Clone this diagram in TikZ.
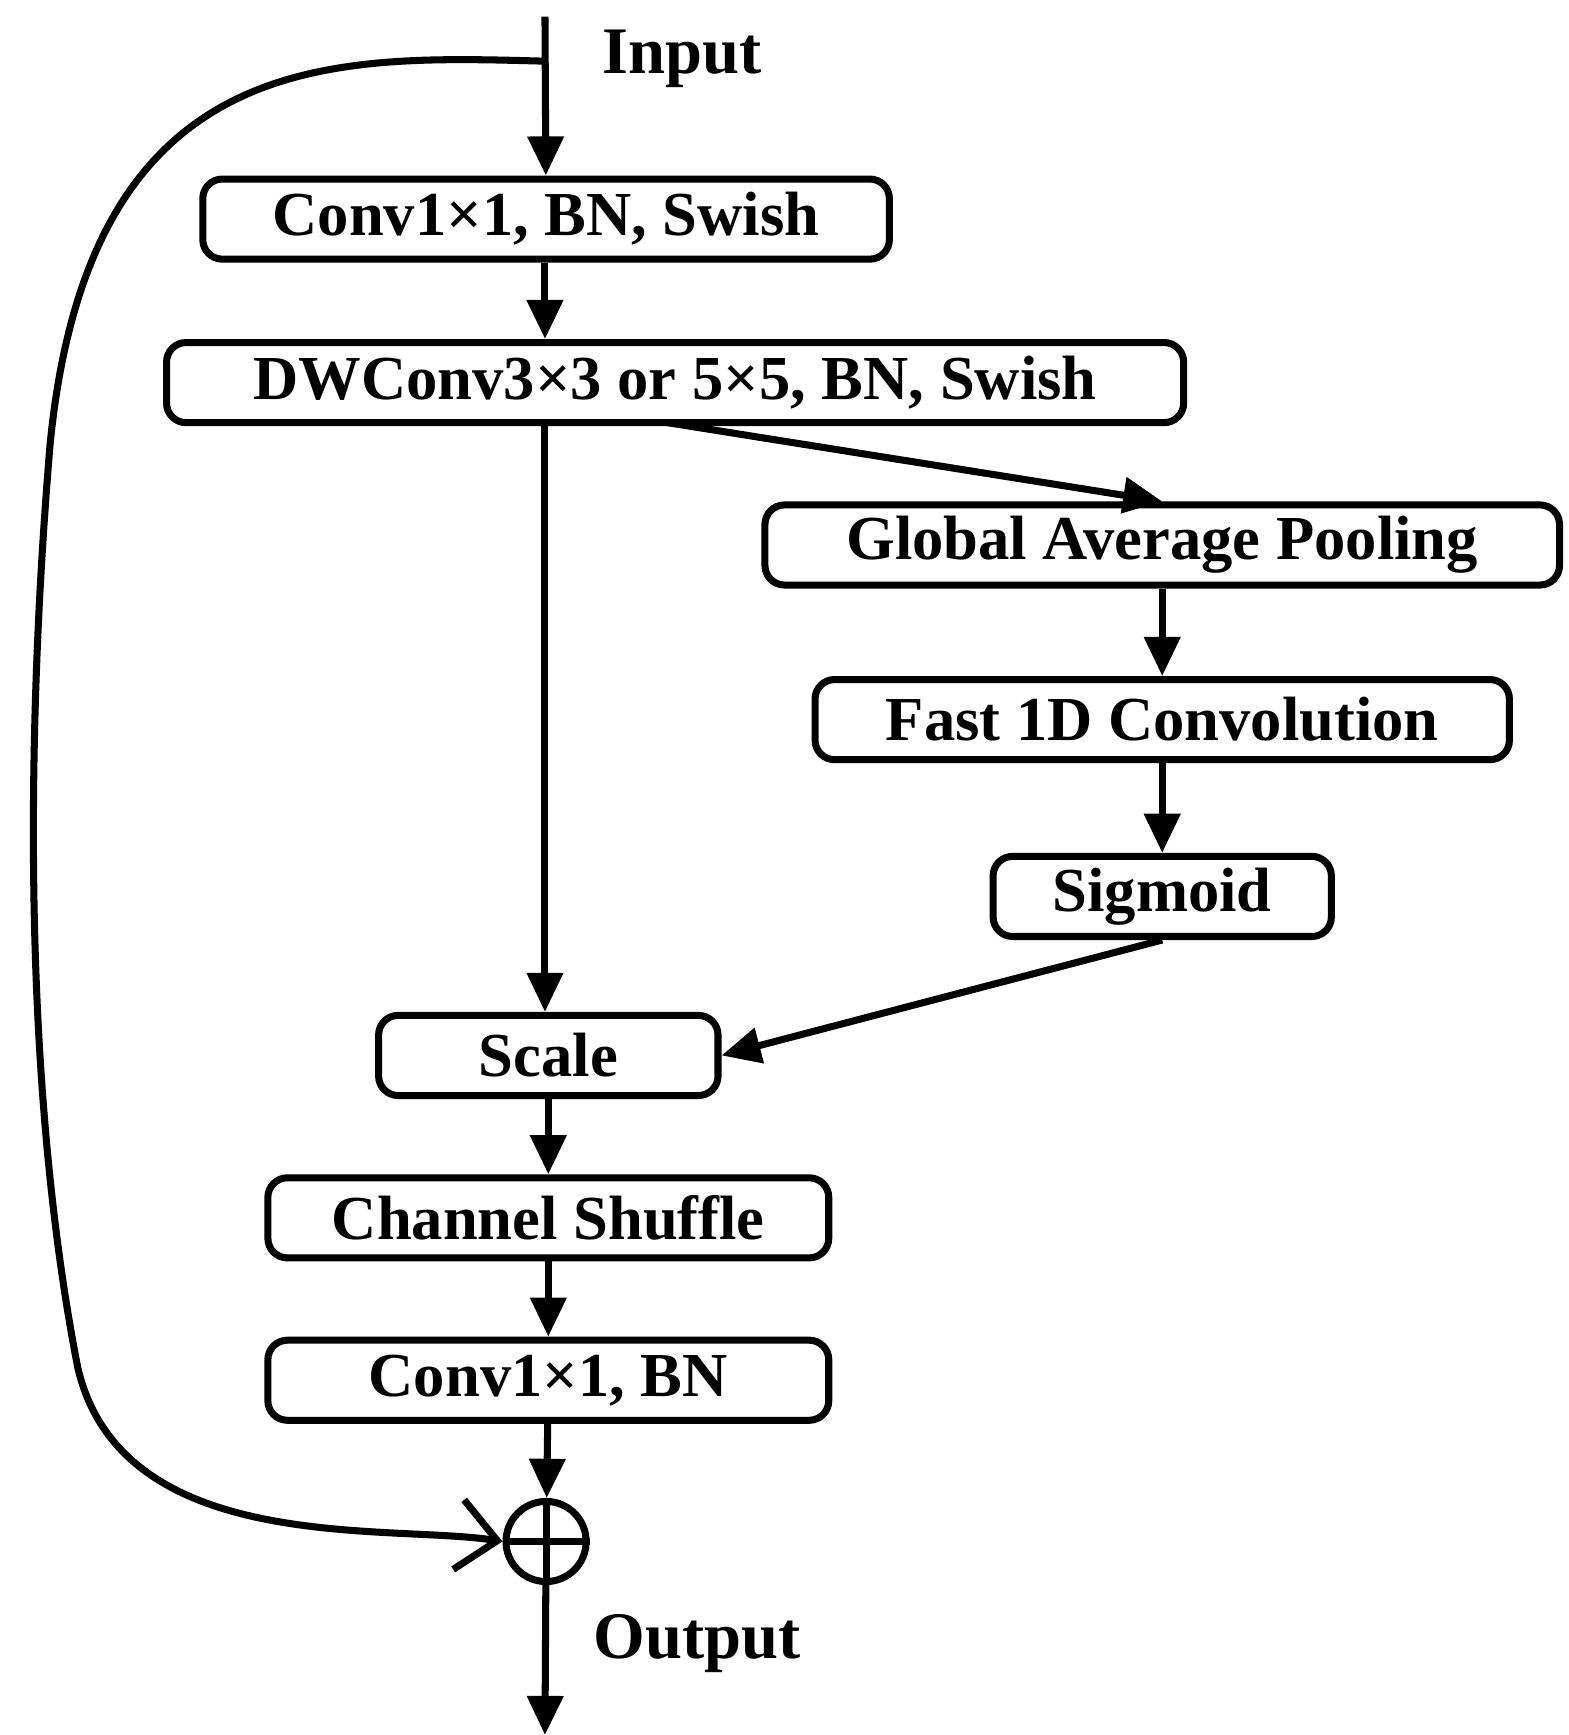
\documentclass[tikz,border=0pt]{standalone}
\usepackage{fontspec}
\setmainfont{Liberation Serif}
\usetikzlibrary{arrows.meta}
\begin{document}
\begin{tikzpicture}[x=0.01cm,y=-0.01cm,line width=1.8pt,
	block/.style={draw,rounded corners=5pt,minimum height=0.72cm,inner sep=0pt,font=\fontsize{16}{19}\selectfont\bfseries},
	flow/.style={-{Triangle[length=10pt,width=9pt]}},
	lbl/.style={font=\fontsize{17}{20}\selectfont\bfseries}]
	\useasboundingbox (0,0) rectangle (1410,1560);
	\coordinate (in) at (490,15);
	\coordinate (out) at (490,1560);
	\node[lbl] (inlbl) at (613,53) {Input};
	\node[lbl] (outlbl) at (627,1478) {Output};
	\node[block,minimum width=6.17cm] (conv1) at (491,197) {Conv1×1, BN, Swish};
	\node[block,minimum width=9.14cm] (dw) at (607,344) {DWConv3×3 or 5×5, BN, Swish};
	\node[block,minimum width=7.14cm] (gap) at (1045,490) {Global Average Pooling};
	\node[block,minimum width=6.24cm] (fast) at (1045,647) {Fast 1D Convolution};
	\node[block,minimum width=3.04cm] (sig) at (1045,806) {Sigmoid};
	\node[block,minimum width=3.05cm] (scale) at (493,949) {Scale};
	\node[block,minimum width=5.04cm] (shuf) at (493,1095) {Channel Shuffle};
	\node[block,minimum width=5.04cm] (conv2) at (493,1241) {Conv1×1, BN};
	\node[draw,circle,minimum size=0.72cm,inner sep=0pt] (add) at (491,1386) {};
	\draw (add.north) -- (add.south) (add.west) -- (add.east);
	% main path
	\draw[flow] (in) -- (conv1);
	\draw[flow] (conv1.south -| 490,0) -- (dw.north -| 490,0);
	\draw[flow] (dw.south -| 490,0) -- (scale.north -| 490,0);
	\draw[flow] (scale) -- (shuf);
	\draw[flow] (shuf) -- (conv2);
	\draw[flow] (conv2) -- (add);
	\draw[flow] (add) -- (out);
	% attention branch
	\draw[flow] (600,380) -- (gap.north);
	\draw[flow] (gap) -- (fast);
	\draw[flow] (fast) -- (sig);
	\draw[flow] (sig.south) -- (scale.east);
	% skip
	\draw[-{Straight Barb[length=10pt,width=18pt]}] (490,55) .. controls (300,50) and (80,40) .. (45,400)
		.. controls (20,700) and (25,1000) .. (70,1230)
		.. controls (110,1400) and (350,1370) .. (add.west);
\end{tikzpicture}
\end{document}
